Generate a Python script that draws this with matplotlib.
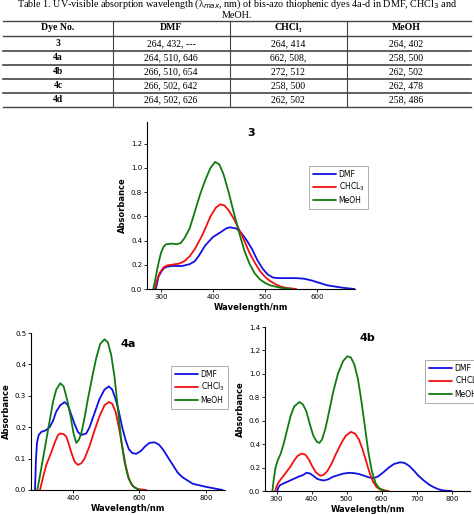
import matplotlib
matplotlib.use("Agg")
import matplotlib.pyplot as plt
from matplotlib.lines import Line2D

dyes = ["3", "4a", "4b", "4c", "4d"]
headers = ["Dye No.", "DMF", "CHCl\u2083", "MeOH"]
dmf_vals = ["264, 432, ---", "264, 510, 646", "266, 510, 654", "266, 502, 642", "264, 502, 626"]
chcl_vals = ["264, 414", "662, 508,", "272, 512", "258, 500", "262, 502"]
meoh_vals = ["264, 402", "258, 500", "262, 502", "262, 478", "258, 486"]

# chart 3
d3_dmf = [(290,0),(295,0.1),(300,0.14),(305,0.17),(312,0.185),(320,0.19),(340,0.19),(355,0.205),(365,0.23),(372,0.27),(385,0.36),(400,0.43),(415,0.47),(425,0.5),(432,0.51),(445,0.5),(455,0.46),(465,0.4),(475,0.33),(485,0.24),(495,0.17),(505,0.12),(515,0.095),(525,0.09),(560,0.09),(575,0.085),(590,0.07),(605,0.05),(620,0.03),(635,0.02),(650,0.01),(672,0.0)]
d3_chcl = [(288,0),(292,0.07),(297,0.13),(305,0.18),(312,0.195),(320,0.2),(335,0.21),(345,0.23),(355,0.27),(365,0.33),(380,0.45),(395,0.6),(405,0.67),(414,0.70),(422,0.69),(430,0.65),(440,0.58),(455,0.45),(470,0.3),(480,0.22),(490,0.15),(500,0.1),(510,0.065),(520,0.04),(530,0.02),(540,0.01),(560,0)]
d3_meoh = [(285,0),(289,0.08),(292,0.15),(296,0.23),(300,0.3),(305,0.35),(310,0.37),(320,0.375),(330,0.37),(338,0.38),(345,0.42),(355,0.5),(365,0.64),(375,0.78),(385,0.9),(395,1.0),(404,1.05),(412,1.03),(420,0.95),(430,0.8),(440,0.63),(450,0.47),(460,0.32),(470,0.21),(480,0.13),(490,0.08),(500,0.05),(510,0.03),(530,0.01),(550,0)]
d3_meoh_edge = [(273,0),(273,1.38)]
# chart 4a
a_dmf = [(286,0),(289,0.1),(292,0.15),(297,0.175),(305,0.185),(318,0.19),(330,0.2),(340,0.22),(350,0.25),(362,0.27),(375,0.28),(385,0.27),(395,0.24),(405,0.21),(415,0.185),(425,0.175),(440,0.18),(450,0.2),(460,0.23),(470,0.26),(480,0.29),(495,0.32),(508,0.33),(518,0.32),(528,0.29),(538,0.25),(548,0.2),(558,0.16),(568,0.13),(578,0.118),(590,0.115),(605,0.125),(618,0.14),(630,0.15),(645,0.152),(658,0.145),(670,0.13),(685,0.105),(700,0.08),(715,0.055),(730,0.04),(760,0.02),(800,0.01),(850,0.0)]
a_chcl = [(301,0),(310,0.04),(320,0.08),(335,0.12),(345,0.15),(355,0.175),(362,0.18),(372,0.178),(380,0.17),(388,0.145),(395,0.12),(405,0.09),(415,0.08),(425,0.085),(435,0.1),(450,0.14),(465,0.19),(480,0.235),(495,0.27),(508,0.28),(518,0.275),(528,0.25),(538,0.2),(548,0.14),(558,0.08),(568,0.035),(580,0.012),(595,0.003),(620,0)]
a_meoh = [(293,0),(300,0.04),(310,0.1),(320,0.16),(330,0.22),(340,0.28),(350,0.32),(362,0.34),(372,0.33),(382,0.29),(392,0.24),(402,0.18),(410,0.15),(418,0.16),(425,0.18),(435,0.23),(445,0.29),(458,0.36),(470,0.42),(482,0.465),(495,0.48),(505,0.47),(515,0.43),(525,0.36),(535,0.26),(545,0.16),(555,0.09),(565,0.045),(575,0.02),(585,0.008),(600,0)]
# chart 4b
b_dmf = [(302,0),(305,0.03),(310,0.05),(320,0.065),(335,0.085),(350,0.105),(365,0.125),(375,0.135),(385,0.155),(395,0.15),(405,0.13),(415,0.105),(425,0.095),(435,0.09),(448,0.1),(460,0.12),(475,0.135),(490,0.148),(505,0.155),(520,0.153),(535,0.145),(550,0.13),(565,0.115),(578,0.11),(590,0.125),(605,0.16),(620,0.2),(635,0.23),(652,0.245),(665,0.24),(678,0.215),(690,0.18),(705,0.13),(720,0.09),(735,0.055),(750,0.03),(765,0.012),(780,0.003),(800,0)]
b_chcl = [(296,0),(300,0.04),(305,0.07),(312,0.1),(320,0.13),(330,0.17),(340,0.21),(350,0.26),(360,0.3),(372,0.32),(382,0.31),(392,0.27),(402,0.21),(412,0.16),(425,0.13),(435,0.14),(445,0.17),(458,0.24),(470,0.32),(485,0.41),(497,0.47),(512,0.505),(524,0.49),(535,0.44),(545,0.36),(555,0.26),(565,0.16),(575,0.08),(585,0.035),(597,0.01),(620,0)]
b_meoh = [(288,0),(292,0.1),(297,0.2),(303,0.26),(312,0.32),(320,0.4),(330,0.52),(340,0.64),(350,0.72),(365,0.76),(375,0.74),(385,0.68),(395,0.57),(405,0.47),(415,0.42),(422,0.41),(430,0.44),(440,0.54),(450,0.68),(462,0.85),(475,1.0),(490,1.11),(502,1.15),(512,1.14),(522,1.08),(532,0.96),(542,0.77),(552,0.55),(562,0.33),(572,0.17),(582,0.07),(592,0.025),(610,0)]

BLUE, RED, GREEN = "#1010e0", "#f01010", "#107a10"
W, H = 474, 515
fig = plt.figure(figsize=(W/100, H/100), dpi=100)
serif = "Liberation Serif"

# table
fig.text(0.5, 1-4/H, "Table 1. UV-visible absorption wavelength (\u03bb$_{max}$, nm) of bis-azo thiophenic dyes 4a-d in DMF, CHCl$_3$ and",
         ha="center", va="center", fontsize=7.3, family=serif)
fig.text(0.5, 1-15/H, "MeOH.", ha="center", va="center", fontsize=7.3, family=serif)
colx = [58, 171, 288, 406]
rowy = [28, 44, 58, 72, 86, 100]
for x, h in zip(colx, headers):
    fig.text(x/W, 1-rowy[0]/H, h, ha="center", va="center", fontsize=7, weight="bold", family=serif)
for i, d in enumerate(dyes):
    y = 1-rowy[i+1]/H
    fig.text(colx[0]/W, y, d, ha="center", va="center", fontsize=7, weight="bold", family=serif)
    for x, v in zip(colx[1:], [dmf_vals[i], chcl_vals[i], meoh_vals[i]]):
        fig.text(x/W, y, v, ha="center", va="center", fontsize=7, family=serif)
for yy, lw in [(21, 1.0), (36, 1.0), (51, 1.2), (65, 1.2), (79, 1.2), (93, 1.2), (107, 1.0)]:
    fig.add_artist(Line2D([3/W, 1-3/W], [1-yy/H]*2, color="#444", lw=lw))
for xx in [113, 230, 347]:
    fig.add_artist(Line2D([xx/W]*2, [1-22/H, 1-107/H], color="#444", lw=0.8))

def mkax(l, r, t, b, xlim, ylim, xt, yt, title):
    ax = fig.add_axes([l/W, 1-b/H, (r-l)/W, (b-t)/H])
    ax.set_xlim(*xlim); ax.set_ylim(*ylim)
    ax.set_xticks(xt); ax.set_yticks(yt)
    ax.set_yticklabels([f"{v:.1f}" for v in yt])
    for s in ["top", "right"]:
        ax.spines[s].set_visible(False)
    for s in ["left", "bottom"]:
        ax.spines[s].set_linewidth(0.8)
    ax.tick_params(labelsize=5, length=2, width=0.6, pad=1.5)
    ax.set_xlabel("Wavelength/nm", fontsize=6, weight="bold", labelpad=2)
    ax.set_ylabel("Absorbance", fontsize=6, weight="bold", labelpad=3)
    ax.set_title(title, fontsize=8, weight="bold", pad=-10, y=1.0)
    return ax

def plot(ax, data, c, lab=None):
    xs = [p[0] for p in data]; ys = [p[1] for p in data]
    ax.plot(xs, ys, color=c, lw=1.3, label=lab, solid_capstyle="round", solid_joinstyle="round")

def legend(ax, bbox):
    leg = ax.legend(fontsize=5.5, loc="upper left", bbox_to_anchor=bbox, bbox_transform=fig.transFigure,
                    frameon=True, fancybox=False, edgecolor="#888", handlelength=3, borderpad=0.5,
                    labelspacing=0.3, handletextpad=0.4)
    leg.get_frame().set_linewidth(0.6)

ax3 = mkax(147, 355, 122, 289, (273, 673), (0, 1.38), [300, 400, 500, 600], [0.0, 0.2, 0.4, 0.6, 0.8, 1.0, 1.2], "3")
plot(ax3, d3_dmf, BLUE, "DMF"); plot(ax3, d3_chcl, RED, "CHCL$_3$"); plot(ax3, d3_meoh, GREEN, "MeOH")
plot(ax3, d3_meoh_edge, GREEN)
legend(ax3, (305/W, 1-162/H))

axa = mkax(31, 225, 333, 490, (274, 857), (0, 0.5), [400, 600, 800], [0.0, 0.1, 0.2, 0.3, 0.4, 0.5], "4a")
plot(axa, a_dmf, BLUE, "DMF"); plot(axa, a_chcl, RED, "CHCl$_3$"); plot(axa, a_meoh, GREEN, "MeOH")
legend(axa, (167/W, 1-362/H))

axb = mkax(265, 470, 327, 491, (267, 852), (0, 1.4), [300, 400, 500, 600, 700, 800], [0.0, 0.2, 0.4, 0.6, 0.8, 1.0, 1.2, 1.4], "4b")
plot(axb, b_dmf, BLUE, "DMF"); plot(axb, b_chcl, RED, "CHCL$_3$"); plot(axb, b_meoh, GREEN, "MeOH")
legend(axb, (421/W, 1-356/H))

fig.savefig("out.png", dpi=100)
